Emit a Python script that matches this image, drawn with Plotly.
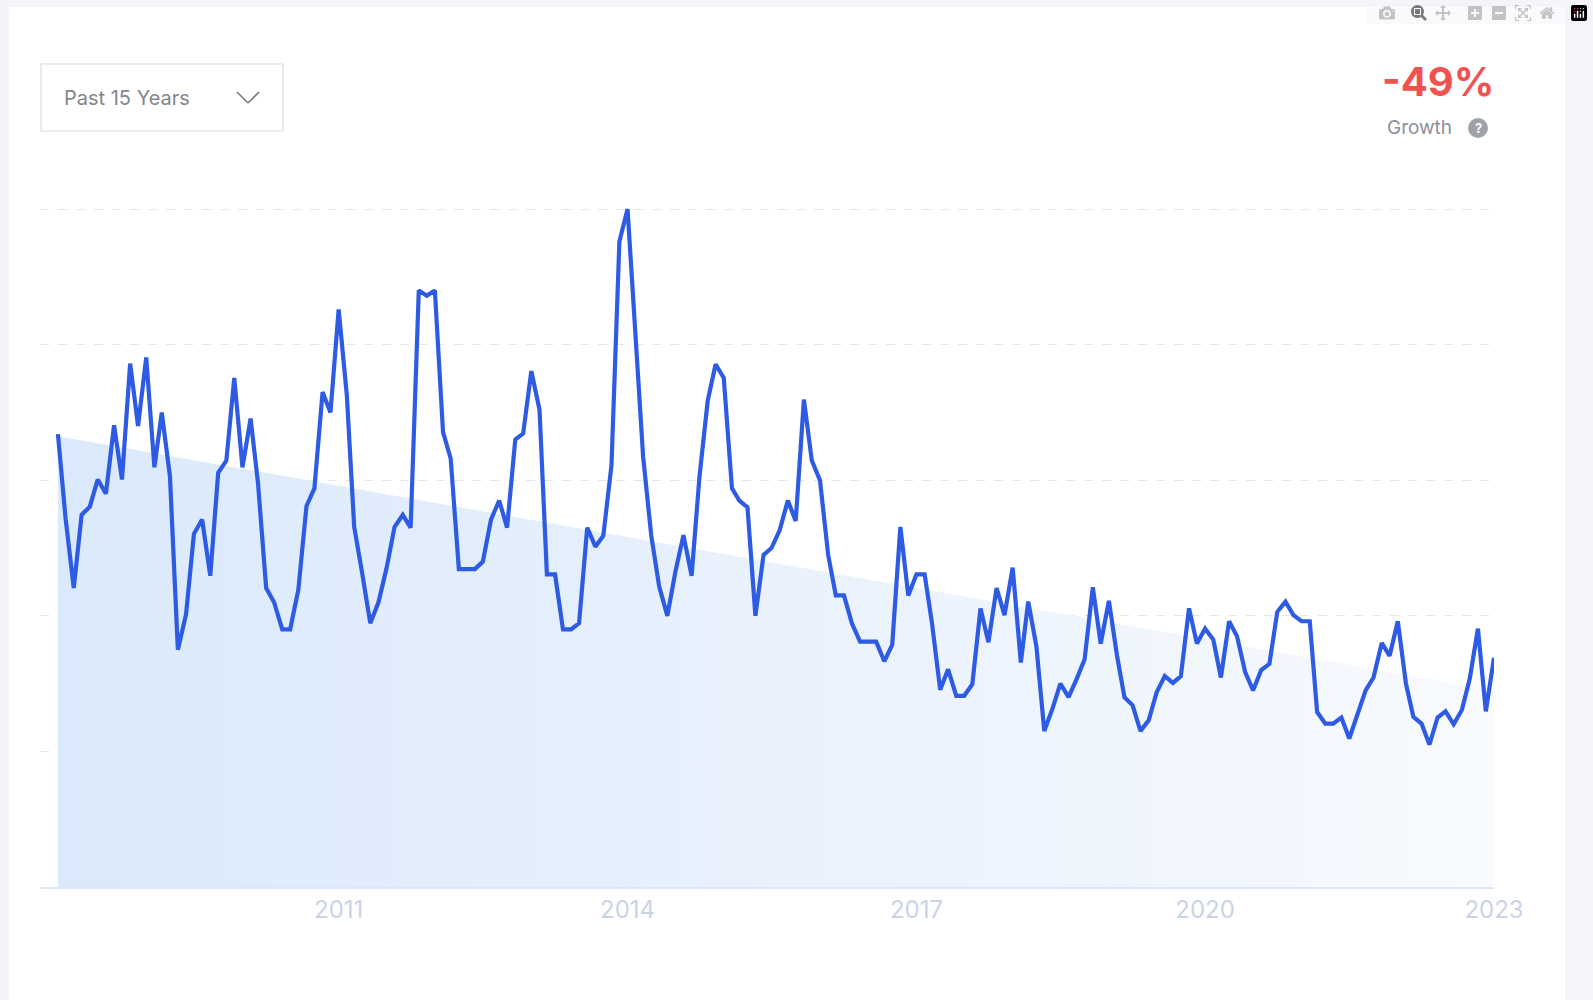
import pandas as pd
import plotly.graph_objects as go

# monthly interest values, Feb 2008 .. Jan 2023
months = pd.date_range("2008-02-01", periods=180, freq="MS")
interest = [
    66.8, 54.4, 44.1, 54.9, 56.1, 60.1, 58.0, 68.1, 60.1, 77.2,
    68.0, 78.1, 61.9, 70.0, 60.6, 35.0, 40.2, 52.1, 54.2, 45.9,
    61.1, 62.9, 75.1, 61.9, 69.1, 59.6, 44.1, 42.0, 38.0, 38.0,
    43.8, 56.2, 58.8, 73.0, 70.0, 85.2, 72.5, 53.1, 46.1, 38.9,
    42.0, 46.9, 53.1, 54.9, 53.0, 88.0, 87.2, 88.0, 67.1, 63.2,
    46.9, 46.9, 46.9, 48.0, 54.2, 57.0, 53.0, 66.0, 66.9, 76.1,
    70.4, 46.1, 46.1, 38.0, 38.0, 38.9, 53.0, 50.2, 51.8, 62.2,
    95.2, 100.0, 80.3, 63.5, 51.8, 44.3, 40.0, 46.4, 51.9, 45.9,
    60.6, 71.7, 77.1, 75.1, 58.8, 57.0, 56.0, 40.0, 49.0, 50.0,
    52.6, 57.0, 54.0, 71.9, 62.9, 60.0, 49.0, 43.0, 43.0, 38.9,
    36.2, 36.2, 36.2, 33.3, 35.7, 53.1, 43.0, 46.1, 46.1, 38.9,
    29.1, 32.1, 28.2, 28.2, 29.9, 41.1, 36.1, 44.1, 40.1, 47.1,
    33.1, 42.1, 35.5, 23.0, 26.3, 30.0, 28.0, 30.7, 33.6, 44.2,
    35.9, 42.2, 34.1, 28.0, 26.8, 23.0, 24.6, 28.7, 31.1, 30.1,
    31.1, 41.1, 35.9, 38.1, 36.5, 30.9, 39.2, 37.0, 31.7, 29.0,
    32.0, 32.9, 40.6, 42.1, 40.1, 39.2, 39.2, 25.8, 24.1, 24.1,
    25.0, 21.9, 25.3, 29.0, 30.9, 36.0, 34.1, 39.2, 30.0, 25.1,
    24.1, 21.0, 25.0, 25.9, 24.0, 26.1, 30.7, 38.1, 25.9, 33.8,
]
trend_x = [months[0], months[-1]]
trend_y = [66.5, 29.0]
tick_years = ["2011-01-01", "2014-01-01", "2017-01-01", "2020-01-01", "2023-01-01"]
tick_text = ["2011", "2014", "2017", "2020", "2023"]
grid_vals = [20, 40, 60, 80, 100]
growth_text = "-49%"

W, H = 1593, 1000
L, R, T, B = 40, 1494, 207, 887


def px(x):
    return (x - L) / (R - L)


def py(y):
    return (B - y) / (B - T)


fig = go.Figure()
fig.add_trace(go.Scatter(
    x=trend_x, y=trend_y, mode="lines", line=dict(width=0),
    fill="tozeroy",
    fillgradient=dict(type="horizontal",
                      colorscale=[[0, "rgba(218,233,251,1)"], [1, "rgba(248,250,254,1)"]]),
    hoverinfo="skip", showlegend=False,
))
fig.add_trace(go.Scatter(
    x=months, y=interest, mode="lines",
    line=dict(color="#2d5be3", width=4.2),
    cliponaxis=False, showlegend=False,
))

shapes = [
    # card
    dict(type="rect", xref="paper", yref="paper", x0=px(8), x1=px(1566), y0=py(1010), y1=py(6),
         fillcolor="white", line=dict(color="#eceef2", width=1), layer="below"),
    # dropdown box
    dict(type="rect", xref="paper", yref="paper", x0=px(41), x1=px(283), y0=py(131), y1=py(64),
         fillcolor="white", line=dict(color="#dcdde0", width=1.2)),
    # chevron
    dict(type="line", xref="paper", yref="paper", x0=px(237), y0=py(92), x1=px(248), y1=py(103),
         line=dict(color="#777a80", width=1.6)),
    dict(type="line", xref="paper", yref="paper", x0=px(248), y0=py(103), x1=px(259), y1=py(92),
         line=dict(color="#777a80", width=1.6)),
    # help icon
    dict(type="circle", xref="paper", yref="paper", x0=px(1468), x1=px(1488), y0=py(138), y1=py(118),
         fillcolor="#9ea3ab", line=dict(width=0)),
]

annotations = [
    dict(text="Past 15 Years", x=px(62), y=py(98), xref="paper", yref="paper",
         xanchor="left", yanchor="middle", showarrow=False,
         font=dict(size=20, color="#83868d", family="Inter")),
    dict(text=f"<b>{growth_text}</b>", x=px(1496), y=py(82), xref="paper", yref="paper",
         xanchor="right", yanchor="middle", showarrow=False,
         font=dict(size=40, color="#f0524f", family="Inter")),
    dict(text="Growth", x=px(1454), y=py(128), xref="paper", yref="paper",
         xanchor="right", yanchor="middle", showarrow=False,
         font=dict(size=19, color="#8b9099", family="Inter")),
    dict(text="<b>?</b>", x=px(1478), y=py(128), xref="paper", yref="paper",
         xanchor="center", yanchor="middle", showarrow=False,
         font=dict(size=13, color="white", family="Inter")),
]

fig.update_layout(
    width=W, height=H,
    margin=dict(l=L, r=W - R, t=T, b=H - B),
    paper_bgcolor="#f4f5f8", plot_bgcolor="rgba(0,0,0,0)",
    shapes=shapes, annotations=annotations,
    xaxis=dict(
        range=["2007-11-25", "2023-01-01"], showgrid=False, zeroline=False,
        showline=True, linecolor="#dbe6f7", linewidth=1.5,
        tickvals=tick_years, ticktext=tick_text, ticks="",
        tickfont=dict(size=24, color="#cad3e6", family="Inter"),
    ),
    yaxis=dict(
        range=[0, 100.3], tickvals=grid_vals, showticklabels=False,
        showgrid=True, gridcolor="#e3e6eb", griddash="dash", gridwidth=1,
        zeroline=False,
    ),
    hovermode="x",
)

fig.write_html("out.html")

# drop the default body margin so the page fits the window without a scrollbar
with open("out.html", encoding="utf-8") as f:
    page = f.read()
page = page.replace("<body>", '<body style="margin:0;overflow:hidden">', 1)
with open("out.html", "w", encoding="utf-8") as f:
    f.write(page)
